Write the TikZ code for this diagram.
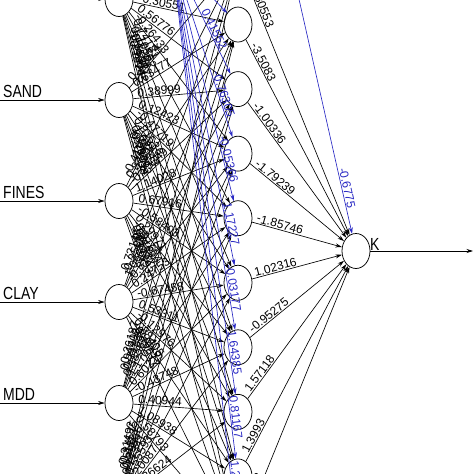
\documentclass[tikz,border=0pt]{standalone}
\usepackage{fontspec}
\setmainfont{Liberation Sans}
\usetikzlibrary{arrows.meta,shapes.geometric}
\definecolor{nnblue}{RGB}{40,40,195}
\tikzset{
  neuron/.style={draw, ellipse, minimum width=28pt, minimum height=35pt, inner sep=0pt, line width=0.75pt},
  wire/.style={draw=black, line width=0.65pt, -{Stealth[length=6.5pt,width=4pt]}},
  biaswire/.style={draw=nnblue, line width=0.65pt, -{Stealth[length=6.5pt,width=4pt]}},
  wlabel/.style={sloped, anchor=south west, inner sep=0.8pt, font=\fontsize{12}{12}\selectfont, text=black},
  blabel/.style={sloped, anchor=south, inner sep=0.8pt, font=\fontsize{12}{12}\selectfont, text=nnblue},
  inname/.style={anchor=base west, inner sep=0pt, font=\fontsize{14}{14}\selectfont},
}
\newcommand{\vstretch}[1]{\scalebox{1}[1.25]{#1}}
\begin{document}
\begin{tikzpicture}[x=1pt,y=-1pt]
\useasboundingbox (0,0) rectangle (474,474);
\clip (0,0) rectangle (474,474);
% nodes
\foreach \i in {0,...,5} \node[neuron] (in\i) at (119,{-1+101*\i}) {};
\foreach \k in {0,...,9} \node[neuron] (h\k) at (238,{-40+64.55*\k}) {};
\node[neuron] (out) at (356,251) {};
\coordinate (b1) at (172,-45);
\coordinate (b2) at (289,-45);
\foreach \i in {0,...,5} \coordinate (src\i) at (0,{-1+101*\i});
\coordinate (dst) at (473,251);
% input names
\node[inname] (nsand)  at (3,97)  {\vstretch{SAND}};
\node[inname] (nfines) at (3,198) {\vstretch{FINES}};
\node[inname] (nclay)  at (3,299.5) {\vstretch{CLAY}};
\node[inname] (nmdd)   at (3,400.5) {\vstretch{MDD}};
\node[inname] (nk)     at (370,250) {\vstretch{K}};
% input arrows
\foreach \i in {0,...,5} \draw[wire] (src\i) -- (in\i);
\draw[wire] (out) -- (dst);
% input -> hidden
\foreach \i/\vals in {
  0/{-0.8321,-0.30551,0.56776,-0.26433,0.74181,-1.10562,0.41208,-0.55317,1.29064,-0.18745},
  1/{0.15924,0.63477,0.38999,0.12423,-0.47719,0.91536,-1.02843,0.33651,-0.76092,0.52208},
  2/{-0.41167,0.87215,-0.23349,1.14028,0.67916,-0.58403,0.29971,-0.91684,0.45532,-0.14893},
  3/{0.72146,-0.35098,1.06627,-0.81932,0.24753,-0.67458,0.53311,-0.12976,0.88405,-0.49617},
  4/{-0.26187,0.94402,-0.71839,0.38562,-1.17034,0.60219,-0.43748,0.40944,1.08938,0.58793},
  5/{0.31492,-0.84575,0.51113,-0.29866,0.77341,-0.55593,1.20087,-0.36624,0.14578,-0.93355}} {
  \foreach \w [count=\k from 0] in \vals {
    \draw[wire] (in\i) -- (h\k) node[wlabel, pos=0.04] {\w};
  }
}
% bias -> hidden
\foreach \k/\p/\w in {0/0.5/0.3384, 1/0.21/0.27914, 2/0.644/0.41552, 3/0.773/-0.76305,
  4/0.834/-0.05366, 5/0.869/1.17227, 6/0.891/-0.03177, 7/0.907/1.64385,
  8/0.919/0.81167, 9/0.929/1.20645} {
  \draw[biaswire] (b1) -- (h\k) node[blabel, pos=\p] {\w};
}
% hidden -> output
\foreach \k/\w in {0/-0.80553, 1/-3.5083, 2/-1.00336, 3/-1.79239, 4/-1.85746,
  5/1.02316, 6/-0.95275, 7/1.57118, 8/1.3993, 9/0.87412} {
  \draw[wire] (h\k) -- (out) node[wlabel, pos=0.03] {\w};
}
\draw[biaswire] (b2) -- (out) node[blabel, pos=0.84] {-0.6775};
\end{tikzpicture}
\end{document}
